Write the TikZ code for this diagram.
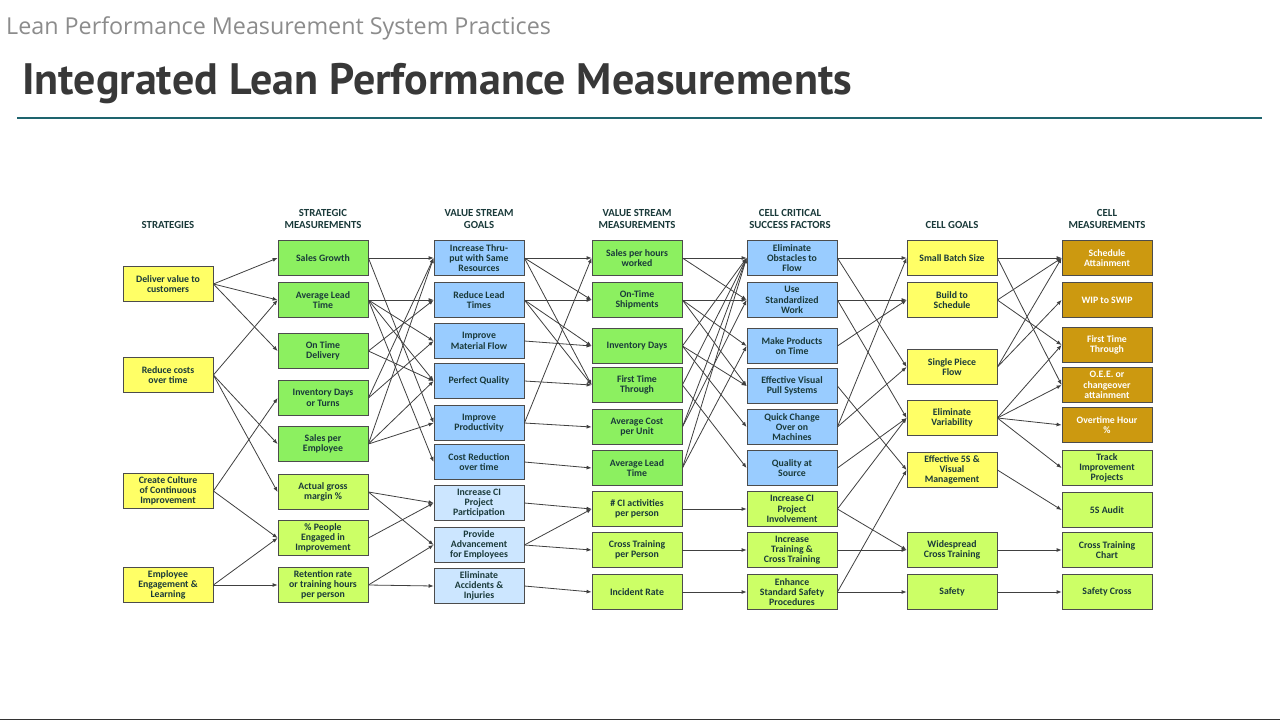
\documentclass[tikz,border=0pt]{standalone}
\usepackage{fontspec}
\setmainfont{Carlito}
\newfontfamily\hdr{Open Sans}
\newfontfamily\ttlf{PT Sans}
\usetikzlibrary{arrows.meta}
\definecolor{ylw}{HTML}{FFFF66}
\definecolor{grn}{HTML}{8CF060}
\definecolor{lim}{HTML}{CCFF66}
\definecolor{blu}{HTML}{99CCFF}
\definecolor{lbl}{HTML}{CCE6FF}
\definecolor{gld}{HTML}{CC9910}
\definecolor{txt}{HTML}{1A3A3A}
\begin{document}
\begin{tikzpicture}[x=1pt,y=-1pt,
 bx/.style={draw=black!70,line width=0.8pt,minimum width=90pt,minimum height=35pt,inner sep=1pt,align=center,font=\bfseries\fontsize{9.8}{10.3}\selectfont,text=txt},
 Y/.style={bx,fill=ylw},G/.style={bx,fill=grn},L/.style={bx,fill=lim},B/.style={bx,fill=blu},LB/.style={bx,fill=lbl},
 O/.style={bx,fill=gld,text=white},
 hd/.style={font=\bfseries\fontsize{10.8}{11.8}\selectfont,text=txt,align=center,anchor=south},
 ar/.style={-{Latex[length=5pt,width=4pt]},line width=0.8pt,black!75}]
\path[use as bounding box,fill=white] (0,0) rectangle (1280,720);
\node[anchor=west,inner sep=0pt,font=\hdr\fontsize{23.3}{25}\selectfont,text=black!45] (sup) at (6,28) {Lean Performance Measurement System Practices};
\node[anchor=west,inner sep=0pt,font=\ttlf\bfseries\fontsize{44}{46}\selectfont,text=black!78] (ttl) at (22,84) {Integrated Lean Performance Measurements};
\draw[line width=2.5pt,color={rgb,255:red,30;green,100;blue,110}] (17,118) -- (1262,118);
\draw[black!80,line width=1pt] (0,719) -- (1280,719);
% headers
\node[hd] (h1) at (168,232) {STRATEGIES};
\node[hd] (h2) at (323,232) {STRATEGIC\\MEASUREMENTS};
\node[hd] (h3) at (479,232) {VALUE STREAM\\GOALS};
\node[hd] (h4) at (637,232) {VALUE STREAM\\MEASUREMENTS};
\node[hd] (h5) at (790,232) {CELL CRITICAL\\SUCCESS FACTORS};
\node[hd] (h6) at (952,232) {CELL GOALS};
\node[hd] (h7) at (1107,232) {CELL\\MEASUREMENTS};
% strategies
\node[Y] (s1) at (168,284) {Deliver value to\\customers};
\node[Y] (s2) at (168,375) {Reduce costs\\over time};
\node[Y] (s3) at (168,491) {Create Culture\\of Continuous\\Improvement};
\node[Y] (s4) at (168,585) {Employee\\Engagement \&\\Learning};
% strategic measurements
\node[G] (a1) at (323,258) {Sales Growth};
\node[G] (a2) at (323,300) {Average Lead\\Time};
\node[G] (a3) at (323,351) {On Time\\Delivery};
\node[G] (a4) at (323,398) {Inventory Days\\or Turns};
\node[G] (a5) at (323,444) {Sales per\\Employee};
\node[L] (a6) at (323,492) {Actual gross\\margin \%};
\node[L] (a7) at (323,538) {\% People\\Engaged in\\Improvement};
\node[L] (a8) at (323,585) {Retention rate\\or training hours\\per person};
% value stream goals
\node[B] (b1) at (479,258) {Increase Thru-\\put with Same\\Resources};
\node[B] (b2) at (479,300) {Reduce Lead\\Times};
\node[B] (b3) at (479,341) {Improve\\Material Flow};
\node[B] (b4) at (479,381) {Perfect Quality};
\node[B] (b5) at (479,423) {Improve\\Productivity};
\node[B] (b6) at (479,462) {Cost Reduction\\over time};
\node[LB] (b7) at (479,503) {Increase CI\\Project\\Participation};
\node[LB] (b8) at (479,545) {Provide\\Advancement\\for Employees};
\node[LB] (b9) at (479,586) {Eliminate\\Accidents \&\\Injuries};
% value stream measurements
\node[G] (c1) at (637,258) {Sales per hours\\worked};
\node[G] (c2) at (637,300) {On-Time\\Shipments};
\node[G] (c3) at (637,346) {Inventory Days};
\node[G] (c4) at (637,385) {First Time\\Through};
\node[G] (c5) at (637,427) {Average Cost\\per Unit};
\node[G] (c6) at (637,468) {Average Lead\\Time};
\node[L] (c7) at (637,509) {\# CI activities\\per person};
\node[L] (c8) at (637,550) {Cross Training\\per Person};
\node[L] (c9) at (637,592) {Incident Rate};
% cell critical success factors
\node[B] (d1) at (792,258) {Eliminate\\Obstacles to\\Flow};
\node[B] (d2) at (792,300) {Use\\Standardized\\Work};
\node[B] (d3) at (792,346) {Make Products\\on Time};
\node[B] (d4) at (792,386) {Effective Visual\\Pull Systems};
\node[B] (d5) at (792,427) {Quick Change\\Over on\\Machines};
\node[B] (d6) at (792,468) {Quality at\\Source};
\node[L] (d7) at (792,509) {Increase CI\\Project\\Involvement};
\node[L] (d8) at (792,550) {Increase\\Training \&\\Cross Training};
\node[L] (d9) at (792,592) {Enhance\\Standard Safety\\Procedures};
% cell goals
\node[Y] (e1) at (952,258) {Small Batch Size};
\node[Y] (e2) at (952,300) {Build to\\Schedule};
\node[Y] (e3) at (952,367) {Single Piece\\Flow};
\node[Y] (e4) at (952,418) {Eliminate\\Variability};
\node[Y] (e5) at (952,470) {Effective 5S \&\\Visual\\Management};
\node[L] (e6) at (952,550) {Widespread\\Cross Training};
\node[L] (e7) at (952,592) {Safety};
% cell measurements
\node[O] (f1) at (1107,258) {Schedule\\Attainment};
\node[O] (f2) at (1107,300) {WIP to SWIP};
\node[O] (f3) at (1107,345) {First Time\\Through};
\node[O] (f4) at (1107,385) {O.E.E. or\\changeover\\attainment};
\node[O] (f5) at (1107,425) {Overtime Hour\\\%};
\node[L] (f6) at (1107,468) {Track\\Improvement\\Projects};
\node[L] (f7) at (1107,510) {5S Audit};
\node[L] (f8) at (1107,550) {Cross Training\\Chart};
\node[L] (f9) at (1107,592) {Safety Cross};
% connectors
\foreach \u/\v in {s1/a1,s1/a2,s1/a3,s2/a2,s2/a5,s2/a6,s3/a4,s3/a7,s4/a7,s4/a8,
 a1/b1,a1/b5,a2/b2,a2/b3,a2/b4,a2/b6,a3/b2,a3/b4,a4/b1,a4/b3,a5/b1,a5/b4,a5/b5,a6/b7,a6/b8,a7/b7,a8/b8,a8/b9,
 b1/c1,b1/c2,b1/c4,b2/c2,b2/c3,b2/c4,b3/c3,b4/c4,b5/c5,b5/c1,b6/c6,b7/c7,b8/c7,b8/c8,b9/c9,
 c1/d1,c1/d2,c2/d2,c2/d3,c2/d4,c3/d1,c3/d4,c3/d5,c4/d1,c4/d6,c5/d1,c5/d2,c6/d1,c6/d3,c7/d7,c8/d8,c9/d9,
 d1/e1,d1/e3,d2/e2,d2/e4,d3/e2,d4/e5,d5/e1,d5/e3,d6/e4,d7/e4,d7/e6,d8/e6,d9/e5,d9/e7,
 e1/f1,e1/f4,e2/f1,e2/f3,e3/f1,e3/f2,e4/f3,e4/f4,e4/f5,e4/f6,e5/f7,e6/f8,e7/f9}
 \draw[ar] (\u.east) -- (\v.west);
\end{tikzpicture}
\end{document}
